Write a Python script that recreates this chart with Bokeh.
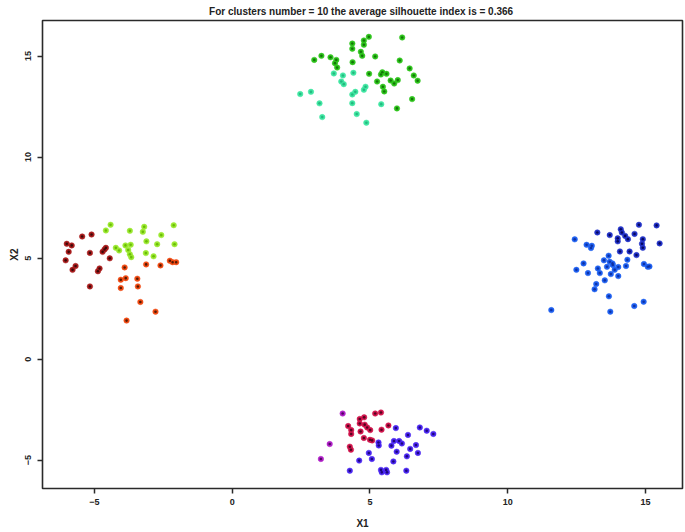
from bokeh.plotting import figure
from bokeh.models import Range1d, FixedTicker
from bokeh.embed import file_html
from bokeh.resources import INLINE

TITLE = "For clusters number = 10  the average silhouette index is = 0.366"
X_TICKS = [-5, 0, 5, 10, 15]
Y_TICKS = [-5, 0, 5, 10, 15]

# --- cluster 1: maroon (left) ---
c1_x = [-5.44, -5.10, -6.00, -5.82, -5.93, -6.04, -5.68, -5.79, -5.16, -4.70, -4.58, -4.63, -4.44, -4.81, -4.87, -5.16]
c1_y = [6.07, 6.17, 5.71, 5.63, 5.31, 4.89, 4.61, 4.42, 5.26, 5.31, 5.51, 5.43, 4.99, 4.49, 4.35, 3.60]
# --- cluster 2: orange (left) ---
c2_x = [-3.90, -3.12, -2.60, -2.26, -2.16, -2.03, -3.86, -4.04, -3.44, -4.04, -3.42, -3.33, -2.78, -3.83]
c2_y = [4.54, 4.69, 4.64, 4.87, 4.80, 4.80, 4.01, 3.93, 3.98, 3.52, 3.60, 2.83, 2.35, 1.91]
# --- cluster 3: yellow-green (left) ---
c3_x = [-4.41, -4.58, -3.71, -3.19, -3.24, -2.12, -2.57, -3.87, -3.68, -3.77, -4.22, -4.10, -3.11, -2.72, -2.09, -3.71, -3.66, -3.13, -2.85]
c3_y = [6.65, 6.37, 6.35, 6.55, 6.30, 6.63, 6.14, 5.63, 5.66, 5.40, 5.51, 5.38, 5.83, 5.69, 5.69, 5.19, 5.05, 5.25, 5.09]
# --- cluster 4: green (top) ---
c4_x = [6.17, 4.96, 4.78, 4.78, 4.36, 4.36, 4.67, 4.72, 5.19, 2.98, 3.24, 3.57, 3.78, 3.73, 3.81, 4.37,
        6.08, 6.44, 4.97, 5.45, 5.60, 5.40, 6.59, 5.26, 5.75, 5.88, 6.01, 6.73, 5.47, 5.52, 6.53, 5.98]
c4_y = [15.92, 15.95, 15.77, 15.56, 15.62, 15.36, 15.21, 15.01, 14.98, 14.81, 15.01, 14.94, 14.81, 14.65, 14.43, 14.70,
        14.78, 14.39, 14.12, 14.20, 14.12, 14.09, 14.04, 13.74, 13.79, 13.64, 13.81, 13.78, 13.48, 13.25, 12.87, 12.41]
# --- cluster 5: cyan-green (top) ---
c5_x = [3.69, 4.02, 4.40, 3.96, 4.05, 2.47, 2.86, 4.84, 4.78, 4.47, 4.36, 4.36, 3.17, 5.41, 4.52, 3.27, 4.87]
c5_y = [14.14, 14.04, 14.17, 13.74, 13.61, 13.12, 13.23, 13.48, 13.33, 13.23, 13.10, 12.67, 12.66, 12.62, 12.13, 11.98, 11.70]
# --- cluster 6: navy (right, upper) ---
c6_x = [14.76, 15.40, 14.10, 14.14, 13.25, 13.70, 14.26, 14.36, 14.60, 13.99, 13.99, 14.90, 14.87, 14.90, 15.51, 14.07, 14.42, 14.67]
c6_y = [6.65, 6.62, 6.43, 6.27, 6.27, 6.14, 6.10, 5.94, 6.20, 5.98, 5.83, 5.94, 5.71, 5.51, 5.73, 5.33, 5.33, 5.15]
# --- cluster 7: blue (right, lower) ---
c7_x = [12.43, 12.86, 13.05, 13.02, 13.66, 13.49, 13.70, 13.80, 13.81, 14.34, 12.75, 14.94, 15.08, 15.14, 13.60, 14.01,
        13.88, 14.29, 13.27, 12.49, 12.91, 13.34, 13.74, 14.01, 13.52, 13.21, 13.15, 13.67, 14.93, 14.59, 11.58, 13.72]
c7_y = [5.93, 5.66, 5.61, 5.50, 5.12, 4.89, 4.82, 4.74, 4.66, 4.92, 4.74, 4.71, 4.57, 4.59, 4.57, 4.56,
        4.42, 4.61, 4.49, 4.42, 4.26, 4.26, 4.21, 4.11, 3.90, 3.72, 3.46, 3.11, 2.84, 2.63, 2.43, 2.35]
# --- cluster 8: crimson (bottom) ---
c8_x = [5.19, 5.40, 4.63, 4.79, 4.63, 4.81, 4.21, 4.90, 5.01, 4.32, 4.32, 4.66, 5.67, 5.42, 4.78, 5.00, 5.08, 4.27, 4.31]
c8_y = [-2.69, -2.64, -2.96, -2.88, -3.18, -3.24, -3.31, -3.38, -3.51, -3.51, -3.70, -3.58, -3.28, -3.49, -3.90, -3.99, -4.02, -4.33, -4.48]
# --- cluster 9: purple (bottom) ---
c9_x = [4.01, 3.54, 3.22]
c9_y = [-2.69, -4.20, -4.94]
# --- cluster 10: blue-violet (bottom) ---
c10_x = [5.94, 6.81, 7.06, 7.30, 6.38, 5.31, 5.32, 5.87, 6.06, 6.16, 5.78, 6.67, 6.46, 5.97, 4.96, 6.74, 6.34,
         5.07, 4.61, 5.85, 4.27, 5.40, 5.43, 5.59, 5.62, 6.32]
c10_y = [-3.41, -3.38, -3.54, -3.70, -3.75, -4.12, -4.27, -4.05, -4.05, -4.17, -4.28, -4.25, -4.44, -4.58, -4.64, -4.64, -4.81,
         -4.94, -5.02, -5.06, -5.52, -5.48, -5.60, -5.48, -5.60, -5.52]

clusters = [
    (c1_x, c1_y, "#A81C1C", "#2A0505"),
    (c2_x, c2_y, "#F04A12", "#3A1000"),
    (c3_x, c3_y, "#9BE830", "#62B400"),
    (c4_x, c4_y, "#2EC41C", "#0E6A05"),
    (c5_x, c5_y, "#40E6A2", "#20B07A"),
    (c6_x, c6_y, "#2233C8", "#000050"),
    (c7_x, c7_y, "#1E60F0", "#0A2A9A"),
    (c8_x, c8_y, "#D0144C", "#40001A"),
    (c9_x, c9_y, "#B020C8", "#400050"),
    (c10_x, c10_y, "#4A26F0", "#14006A"),
]

FONT = "Liberation Sans"

p = figure(width=685, height=532, output_backend="svg", toolbar_location=None,
           x_range=Range1d(-6.88, 16.34), y_range=Range1d(-6.40, 16.76),
           min_border_left=42, min_border_right=3, min_border_top=19, min_border_bottom=44)

for xs, ys, ring, core in clusters:
    p.scatter(xs, ys, size=5.5, fill_color=ring, line_color=ring, line_width=0.5)
    p.scatter(xs, ys, size=2.6, fill_color=core, line_color=None, fill_alpha=0.85)

p.title.text = TITLE
p.title.align = "center"
p.title.text_font = FONT
p.title.text_font_size = "10px"
p.title.text_font_style = "bold"
p.title.text_color = "#222222"
p.title.standoff = 7

p.xgrid.visible = False
p.ygrid.visible = False
p.outline_line_color = "#2a2a2a"
p.outline_line_width = 1.6
p.background_fill_color = "white"
p.border_fill_color = "white"

for ax, ticks in ((p.xaxis[0], X_TICKS), (p.yaxis[0], Y_TICKS)):
    ax.ticker = FixedTicker(ticks=ticks)
    ax.axis_line_color = None
    ax.major_tick_in = 0
    ax.major_tick_out = 5
    ax.major_tick_line_color = "#2a2a2a"
    ax.major_tick_line_width = 1.5
    ax.minor_tick_line_color = None
    ax.major_label_text_font = FONT
    ax.major_label_text_font_size = "9px"
    ax.major_label_text_font_style = "bold"
    ax.major_label_text_color = "#222222"
    ax.axis_label_text_font = FONT
    ax.axis_label_text_font_size = "10px"
    ax.axis_label_text_font_style = "bold"
    ax.axis_label_text_color = "#222222"

p.xaxis.axis_label = "X1"
p.yaxis.axis_label = "X2"
p.xaxis.major_label_standoff = 5
p.xaxis.axis_label_standoff = 10
p.yaxis.major_label_standoff = 6
p.yaxis.axis_label_standoff = 3
p.yaxis.major_label_orientation = "vertical"

open("out.html", "w").write(file_html(p, INLINE))
